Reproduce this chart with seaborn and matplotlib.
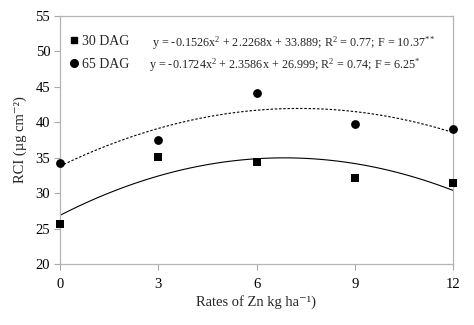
import numpy as np
import pandas as pd
import matplotlib
matplotlib.use("Agg")
import matplotlib.pyplot as plt
import seaborn as sns
from matplotlib.lines import Line2D

# ---- data ----
zn_rates = [0, 3, 6, 9, 12]
rci_30dag = [25.6, 35.1, 34.4, 32.1, 31.5]
rci_65dag = [34.2, 37.5, 44.2, 39.8, 39.0]
series_names = ["30 DAG", "65 DAG"]
eq_30 = "y = -0.1526x$^{2}$ + 2.2268x + 33.889; R$^{2}$ = 0.77; F = 10.37$^{**}$"
eq_65 = "y = -0.1724x$^{2}$ + 2.3586x + 26.999; R$^{2}$ = 0.74; F = 6.25$^{*}$"
x_ticks = [0, 3, 6, 9, 12]
y_ticks = [20, 25, 30, 35, 40, 45, 50, 55]

sns.set_theme(style="white")
plt.rcParams["font.family"] = ["Liberation Serif", "DejaVu Serif"]
plt.rcParams["mathtext.fontset"] = "custom"
plt.rcParams["mathtext.rm"] = "Liberation Serif"
plt.rcParams["mathtext.it"] = "Liberation Serif"
plt.rcParams["mathtext.default"] = "regular"

df = pd.DataFrame({
    "x": zn_rates * 2,
    "y": rci_30dag + rci_65dag,
    "s": [series_names[0]] * 5 + [series_names[1]] * 5,
})

fig = plt.figure(figsize=(4.74, 3.25), dpi=100)
ax = fig.add_axes([60 / 474, 1 - 264 / 325, (453 - 60) / 474, (264 - 16) / 325])

d30 = df[df.s == series_names[0]]
d65 = df[df.s == series_names[1]]
sns.regplot(data=d30, x="x", y="y", order=2, ci=None, scatter=False, ax=ax,
            truncate=True, line_kws=dict(color="black", lw=0.8))
sns.regplot(data=d65, x="x", y="y", order=2, ci=None, scatter=False, ax=ax,
            truncate=True, line_kws=dict(color="black", lw=0.8, ls=(0, (2.2, 1.6))))
sns.scatterplot(data=d30, x="x", y="y", marker="s", s=30, color="black",
                edgecolor="black", linewidth=0, ax=ax, zorder=5, clip_on=False)
sns.scatterplot(data=d65, x="x", y="y", marker="o", s=40, color="black",
                edgecolor="black", linewidth=0, ax=ax, zorder=5, clip_on=False)

ax.set_xlim(0, 12)
ax.set_ylim(20, 55)
ax.set_xticks(x_ticks)
ax.set_yticks(y_ticks)
ax.tick_params(axis="both", which="both", direction="out", length=4, width=0.8,
               color="#a8a8a8", labelsize=10.5, labelcolor="black",
               left=True, bottom=True)
ax.tick_params(axis="x", pad=6)
ax.tick_params(axis="y", pad=3)
for sp in ax.spines.values():
    sp.set_visible(True)
    sp.set_color("#b4b4b4")
    sp.set_linewidth(0.9)
ax.set_xlabel("Rates of Zn kg ha⁻¹)", fontsize=10.5, labelpad=3)
ax.set_ylabel("RCI (µg cm⁻²)", fontsize=10.5, labelpad=6)

handles = [
    Line2D([], [], marker="s", color="black", ls="none", markersize=5),
    Line2D([], [], marker="o", color="black", ls="none", markersize=5.5),
]
ax.legend(handles, series_names, loc="upper left", bbox_to_anchor=(0.025, 0.925),
          frameon=False, fontsize=10, handlelength=0.6, handletextpad=0.25,
          labelspacing=0.72, borderaxespad=0, borderpad=0)
ax.annotate(eq_30, xy=(152, 325 - 43), xycoords="figure pixels", fontsize=8.7,
            va="center", ha="left")
ax.annotate(eq_65, xy=(149, 325 - 65), xycoords="figure pixels", fontsize=8.7,
            va="center", ha="left")

fig.savefig("out.png", dpi=100)
